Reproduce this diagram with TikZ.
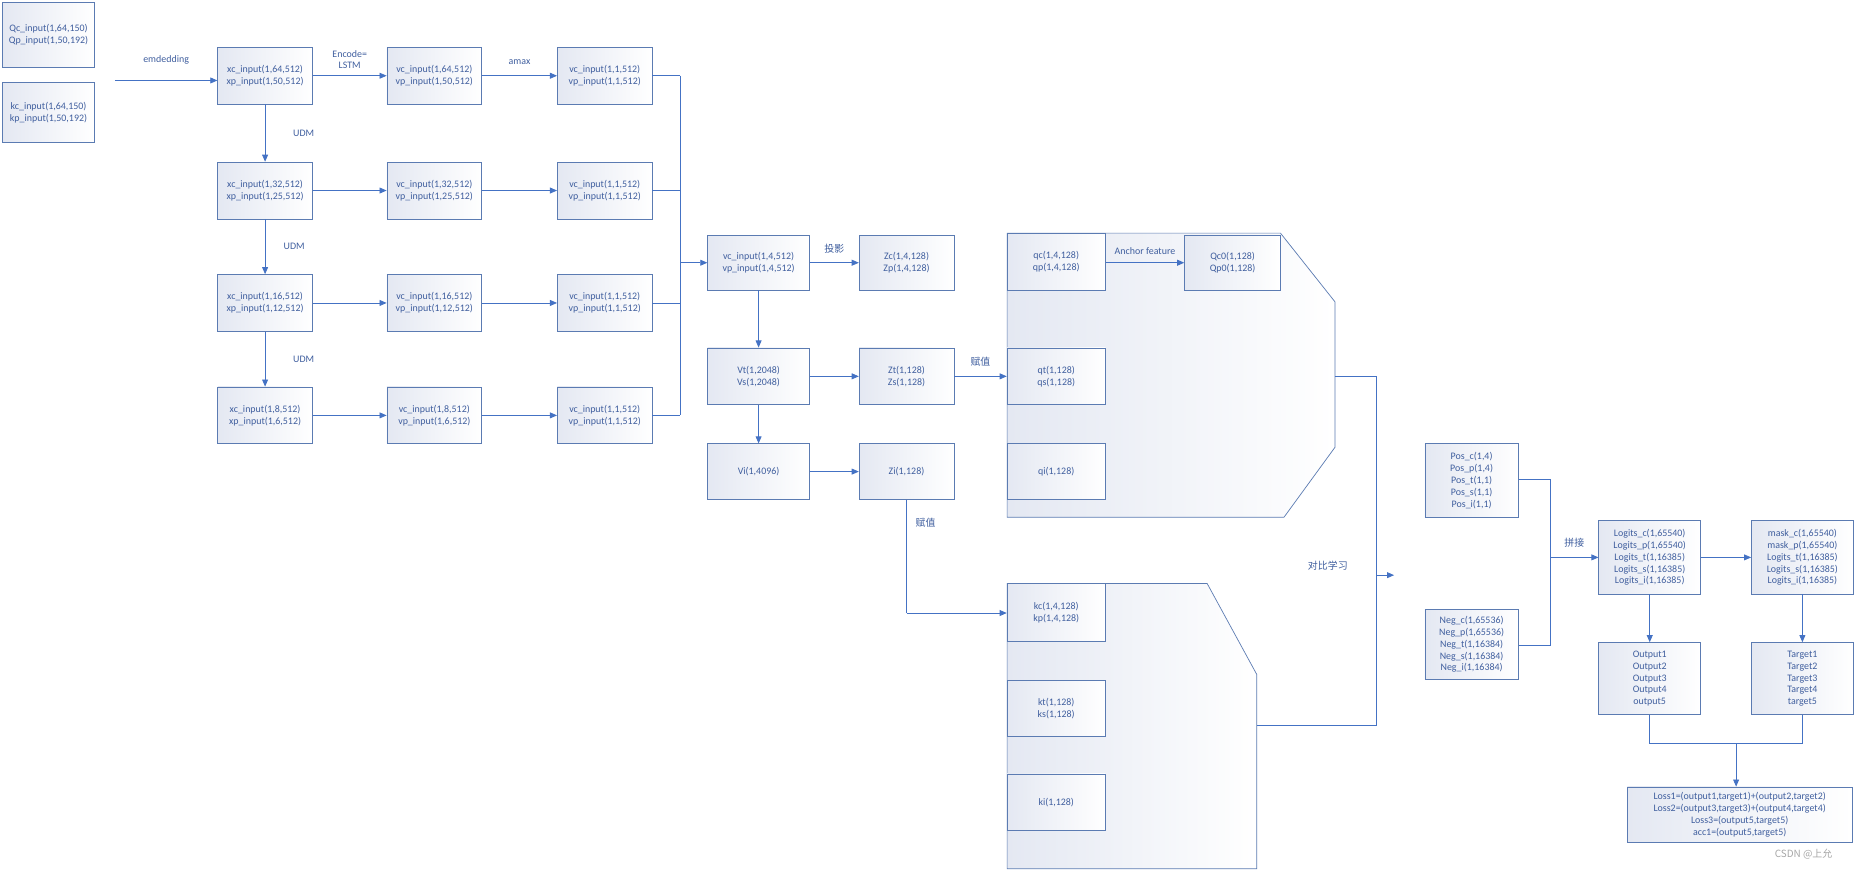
\documentclass[tikz,border=0pt]{standalone}
\usepackage{fontspec}
\setmainfont{Carlito}
\newfontfamily\cjk{Noto Sans CJK SC}
\usetikzlibrary{arrows.meta}
\definecolor{bd}{HTML}{5B7BB2}
\definecolor{tx}{HTML}{3F5E9E}
\definecolor{ar}{HTML}{4472C4}
\definecolor{fl}{HTML}{E4E8F2}
\begin{document}
\begin{tikzpicture}[x=1pt,y=-1pt,font=\fontsize{8.4}{10}\selectfont,
  box/.style={draw=bd,line width=0.6pt,left color=fl,right color=white,text=tx,align=center,inner sep=0pt},
  lbl/.style={text=tx,font=\fontsize{8.4}{10}\selectfont,align=center},
  cj/.style={text=tx,font=\cjk\fontsize{8.4}{10}\selectfont},
  arr/.style={draw=ar,line width=0.7pt,-{Triangle[length=6pt,width=5pt]}},
  ln/.style={draw=ar,line width=0.7pt},
  shp/.style={draw=bd,line width=0.6pt,left color=fl,right color=white}]
\useasboundingbox (0,0) rectangle (1570,735);
\newcommand{\bx}[6]{\node[box,minimum width=#4-#2,minimum height=#5-#3] (#1) at ({(#2+#4)/2},{(#3+#5)/2}) {#6};}
% inputs
\bx{Q}{2}{2}{80}{57}{Qc\_input(1,64,150)\\Qp\_input(1,50,192)}
\bx{K}{2}{70}{80}{120}{kc\_input(1,64,150)\\kp\_input(1,50,192)}
\coordinate (e0) at (97,68);
% columns
\bx{x1}{184}{40}{264}{88}{xc\_input(1,64,512)\\xp\_input(1,50,512)}
\bx{x2}{184}{137}{264}{185}{xc\_input(1,32,512)\\xp\_input(1,25,512)}
\bx{x3}{184}{232}{264}{280}{xc\_input(1,16,512)\\xp\_input(1,12,512)}
\bx{x4}{184}{327}{264}{375}{xc\_input(1,8,512)\\xp\_input(1,6,512)}
\bx{v1}{327}{40}{407}{88}{vc\_input(1,64,512)\\vp\_input(1,50,512)}
\bx{v2}{327}{137}{407}{185}{vc\_input(1,32,512)\\vp\_input(1,25,512)}
\bx{v3}{327}{232}{407}{280}{vc\_input(1,16,512)\\vp\_input(1,12,512)}
\bx{v4}{327}{327}{407}{375}{vc\_input(1,8,512)\\vp\_input(1,6,512)}
\bx{a1}{471}{40}{551}{88}{vc\_input(1,1,512)\\vp\_input(1,1,512)}
\bx{a2}{471}{137}{551}{185}{vc\_input(1,1,512)\\vp\_input(1,1,512)}
\bx{a3}{471}{232}{551}{280}{vc\_input(1,1,512)\\vp\_input(1,1,512)}
\bx{a4}{471}{327}{551}{375}{vc\_input(1,1,512)\\vp\_input(1,1,512)}
\draw[arr] (e0) -- (x1.west|-e0) node[midway,above=10pt,lbl]{emdedding};
\draw[arr] (x1) -- (v1) node[midway,above=2pt,lbl]{Encode=\\LSTM};
\draw[arr] (v1) -- (a1) node[midway,above=6pt,lbl]{amax};
\foreach \i in {2,3,4}{\draw[arr] (x\i) -- (v\i); \draw[arr] (v\i) -- (a\i);}
\draw[arr] (x1) -- (x2) node[midway,right=20pt,lbl]{UDM};
\draw[arr] (x2) -- (x3) node[midway,right=12pt,lbl]{UDM};
\draw[arr] (x3) -- (x4) node[midway,right=20pt,lbl]{UDM};
% bus
\bx{c1}{598}{199}{684}{245}{vc\_input(1,4,512)\\vp\_input(1,4,512)}
\bx{c2}{598}{294}{684}{342}{Vt(1,2048)\\Vs(1,2048)}
\bx{c3}{598}{375}{684}{422}{Vi(1,4096)}
\coordinate (bt) at (575,64); \coordinate (bb) at (575,351);
\foreach \i in {1,2,3,4}{\draw[ln] (a\i.east) -- (a\i.east-|bt);}
\draw[ln] (bt) -- (bb);
\draw[arr] (c1.west-|bt) -- (c1.west);
\bx{z1}{726}{199}{806}{245}{Zc(1,4,128)\\Zp(1,4,128)}
\bx{z2}{726}{294}{806}{342}{Zt(1,128)\\Zs(1,128)}
\bx{z3}{726}{375}{806}{422}{Zi(1,128)}
\draw[arr] (c1) -- (z1) node[midway,above=4pt,cj]{投影};
\draw[arr] (c2) -- (z2); \draw[arr] (c3) -- (z3);
\draw[arr] (c1) -- (c2); \draw[arr] (c2) -- (c3);
% top shape
\draw[shp] (851,197) -- (1082,197) -- (1128,255) -- (1128,378) -- (1085,437) -- (851,437) -- cycle;
\bx{q1}{851}{197}{934}{245}{qc(1,4,128)\\qp(1,4,128)}
\bx{q2}{851}{294}{934}{342}{qt(1,128)\\qs(1,128)}
\bx{q3}{851}{375}{934}{422}{qi(1,128)}
\bx{q0}{1001}{199}{1082}{245}{Qc0(1,128)\\Qp0(1,128)}
\draw[arr] (q1.east|-q0) -- (q0.west) node[midway,above=3pt,lbl]{Anchor feature};
\draw[arr] (z2) -- (q2) node[midway,above=5pt,cj]{赋值};
% lower shape
\draw[shp] (851,493) -- (1020,493) -- (1062,570) -- (1062,734) -- (851,734) -- cycle;
\bx{k1}{851}{493}{934}{542}{kc(1,4,128)\\kp(1,4,128)}
\bx{k2}{851}{575}{934}{622}{kt(1,128)\\ks(1,128)}
\bx{k3}{851}{654}{934}{702}{ki(1,128)}
\coordinate (zk) at (766,518);
\draw[ln] (z3.south) -- (zk) node[pos=0.2,right=4pt,cj]{赋值};
\draw[arr] (zk) -- (k1.west|-zk);
% contrastive
\coordinate (t1) at (1128,318); \coordinate (t2) at (1163,318);
\coordinate (l1) at (1062,613); \coordinate (l2) at (1163,613);
\coordinate (m) at (1163,486); \coordinate (m2) at (1178,486);
\draw[ln] (t1) -- (t2) -- (l2) -- (l1);
\draw[arr] (m) -- (m2);
\node[cj] at (1122,478) {对比学习};
% right part
\bx{pos}{1204}{375}{1283}{437}{Pos\_c(1,4)\\Pos\_p(1,4)\\Pos\_t(1,1)\\Pos\_s(1,1)\\Pos\_i(1,1)}
\bx{neg}{1204}{515}{1283}{574}{Neg\_c(1,65536)\\Neg\_p(1,65536)\\Neg\_t(1,16384)\\Neg\_s(1,16384)\\Neg\_i(1,16384)}
\bx{lg}{1351}{440}{1437}{502}{Logits\_c(1,65540)\\Logits\_p(1,65540)\\Logits\_t(1,16385)\\Logits\_s(1,16385)\\Logits\_i(1,16385)}
\bx{mk}{1480}{440}{1566}{502}{mask\_c(1,65540)\\mask\_p(1,65540)\\Logits\_t(1,16385)\\Logits\_s(1,16385)\\Logits\_i(1,16385)}
\bx{out}{1351}{543}{1437}{604}{Output1\\Output2\\Output3\\Output4\\output5}
\bx{tg}{1480}{543}{1566}{604}{Target1\\Target2\\Target3\\Target4\\target5}
\bx{loss}{1375}{665}{1565}{712}{Loss1=(output1,target1)+(output2,target2)\\Loss2=(output3,target3)+(output4,target4)\\Loss3=(output5,target5)\\acc1=(output5,target5)}
\coordinate (p1) at (1310,405); \coordinate (p2) at (1310,545); \coordinate (pj) at (1310,471);
\draw[ln] (pos.east|-p1) -- (p1) -- (p2) -- (neg.east|-p2);
\draw[arr] (pj) -- (lg.west) node[midway,above=5pt,cj]{拼接};
\draw[arr] (lg) -- (mk);
\draw[arr] (lg) -- (out); \draw[arr] (mk) -- (tg);
\coordinate (j) at (1467,628);
\draw[ln] (out.south) |- (j) -| (tg.south);
\draw[arr] (j) -- (j|-loss.north);
\node[text=gray!70,font=\cjk\fontsize{8.4}{10}\selectfont] at (1524,722) {CSDN @上允};
\end{tikzpicture}
\end{document}
